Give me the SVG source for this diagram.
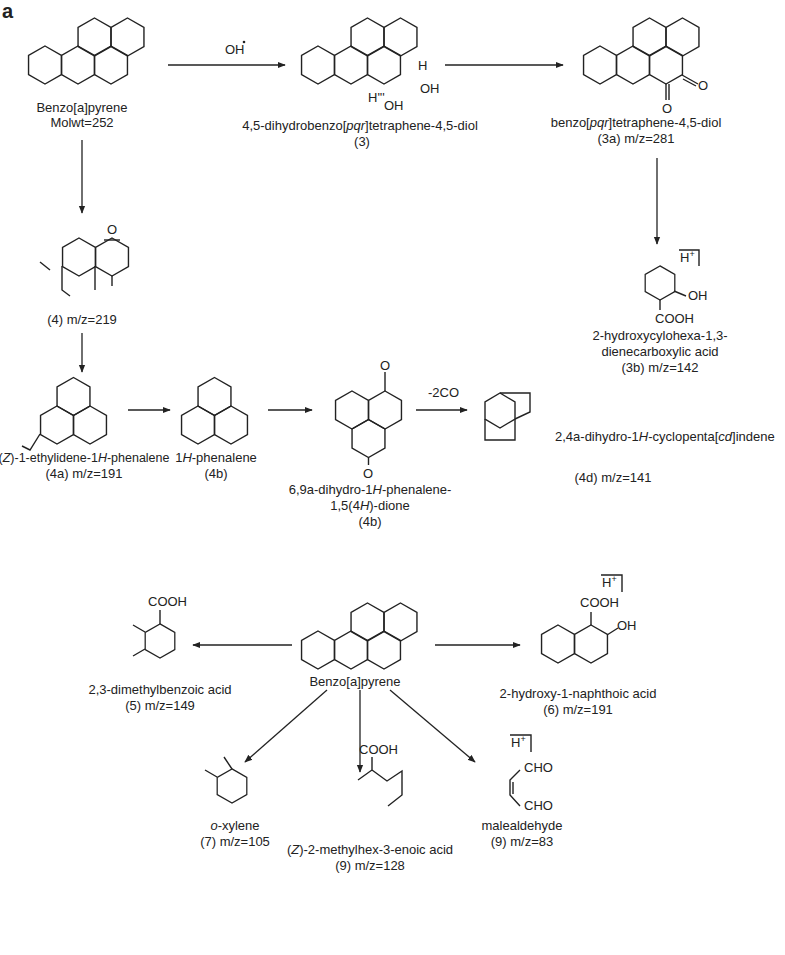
<svg xmlns="http://www.w3.org/2000/svg" width="785" height="955" viewBox="0 0 785 955">
<style>
text{font-family:"Liberation Sans",Arial,sans-serif;font-size:13px;fill:#222}
.c{text-anchor:middle}
.b{stroke:#222;stroke-width:1.4;fill:none}
.a{stroke:#222;stroke-width:1.3;fill:none;marker-end:url(#ar)}
</style>
<defs>
<marker id="ar" viewBox="0 0 10 10" refX="9" refY="5" markerWidth="8" markerHeight="8" orient="auto" markerUnits="userSpaceOnUse"><path d="M0,1 L10,5 L0,9Z" fill="#222"/></marker>
<path id="hx" class="b" d="M0,-19 L16.45,-9.5 L16.45,9.5 L0,19 L-16.45,9.5 L-16.45,-9.5Z"/>
</defs>
<text x="2" y="18" style="font-size:20px;font-weight:bold">a</text>

<g id="bap1"><use href="#hx" x="45" y="65"/><use href="#hx" x="78" y="65"/><use href="#hx" x="111" y="65"/><use href="#hx" x="94.5" y="37"/><use href="#hx" x="127.5" y="37"/>
<text class="c" x="82" y="112">Benzo[a]pyrene</text><text class="c" x="82" y="127">Molwt=252</text></g>

<g id="c3"><use href="#hx" x="318" y="65"/><use href="#hx" x="351" y="65"/><use href="#hx" x="384" y="65"/><use href="#hx" x="367.5" y="37"/><use href="#hx" x="400.5" y="37"/>
<text x="418" y="70">H</text><text x="420" y="93">OH</text><text x="368" y="102">H'''</text><text x="384" y="110">OH</text>
<text class="c" x="360" y="130">4,5-dihydrobenzo[<tspan font-style="italic">pqr</tspan>]tetraphene-4,5-diol</text><text class="c" x="362" y="146">(3)</text></g>

<g id="c3a"><use href="#hx" x="600" y="65"/><use href="#hx" x="633" y="65"/><use href="#hx" x="666" y="65"/><use href="#hx" x="649.5" y="37"/><use href="#hx" x="682.5" y="37"/>
<path class="b" d="M682,75 L698,84 M683,79 L696,86 M666,84 L666,100 M669,84 L669,100"/>
<text x="698" y="90">O</text><text x="662" y="113">O</text>
<text class="c" x="636" y="127">benzo[<tspan font-style="italic">pqr</tspan>]tetraphene-4,5-diol</text><text class="c" x="636" y="143">(3a) m/z=281</text></g>

<g id="c3b"><use href="#hx" x="660" y="283" transform="translate(660 283) scale(0.9) translate(-660 -283)"/>
<path class="b" d="M674,291 L686,296"/><text x="688" y="300">OH</text><text x="655" y="323">COOH</text>
<path class="b" d="M660,300 L660,310"/>
<text x="680" y="262">H<tspan font-size="9" dy="-5">+</tspan></text><path class="b" d="M679,250 L699,250 L699,266"/>
<text class="c" x="660" y="340">2-hydroxycylohexa-1,3-</text><text class="c" x="660" y="356">dienecarboxylic acid</text><text class="c" x="660" y="372">(3b) m/z=142</text></g>

<g id="c4"><use href="#hx" x="79" y="257"/><use href="#hx" x="112" y="257"/>
<path class="b" d="M62,266 L62,290 L70,296 M95,266 L95,290 M112,276 L112,286"/>
<text x="107" y="234">O</text><path class="b" d="M104,240 L120,240"/><path class="b" d="M40,262 L50,270"/>
<text class="c" x="82" y="324">(4) m/z=219</text></g>

<g id="c4a"><use href="#hx" x="57" y="425"/><use href="#hx" x="90" y="425"/><use href="#hx" x="73.5" y="396.5"/>
<path class="b" d="M40,434 L30,450 L22,446"/>
<text class="c" x="84" y="462" style="font-size:12.5px">(<tspan font-style="italic">Z</tspan>)-1-ethylidene-1<tspan font-style="italic">H</tspan>-phenalene</text><text class="c" x="84" y="478">(4a) m/z=191</text></g>

<g id="c4b"><use href="#hx" x="198" y="425"/><use href="#hx" x="231" y="425"/><use href="#hx" x="214.5" y="396.5"/>
<text class="c" x="216" y="462">1<tspan font-style="italic">H</tspan>-phenalene</text><text class="c" x="216" y="478">(4b)</text></g>

<g id="c4c"><use href="#hx" x="352" y="410"/><use href="#hx" x="385" y="410"/><use href="#hx" x="368.5" y="438.5"/>
<path class="b" d="M385,372 L385,391"/><text x="380" y="370">O</text>
<path class="b" d="M368.5,457.5 L368.5,465"/><text x="363" y="478">O</text>
<text class="c" x="370" y="494">6,9a-dihydro-1<tspan font-style="italic">H</tspan>-phenalene-</text><text class="c" x="370" y="510">1,5(4<tspan font-style="italic">H</tspan>)-dione</text><text class="c" x="370" y="526">(4b)</text></g>

<g id="c4d"><path class="b" d="M500,393 L515,402 L515,419 L500,428 L485,419 L485,402Z"/>
<path class="b" d="M500,393 L530,393 L530,412 L515,419 M485,419 L485,440 L515,440 L515,419"/>
<text x="555" y="441">2,4a-dihydro-1<tspan font-style="italic">H</tspan>-cyclopenta[<tspan font-style="italic">cd</tspan>]indene</text>
<text class="c" x="613" y="482">(4d) m/z=141</text></g>

<g id="bap2"><use href="#hx" x="318" y="650"/><use href="#hx" x="351" y="650"/><use href="#hx" x="384" y="650"/><use href="#hx" x="367.5" y="622"/><use href="#hx" x="400.5" y="622"/>
<text class="c" x="355" y="686">Benzo[a]pyrene</text></g>

<g id="c5"><use href="#hx" x="160" y="641" transform="translate(160 641) scale(0.9) translate(-160 -641)"/>
<path class="b" d="M160,624 L160,610 M145,632 L133,625 M145,649 L133,656"/>
<text x="148" y="606">COOH</text>
<text class="c" x="160" y="694">2,3-dimethylbenzoic acid</text><text class="c" x="160" y="710">(5) m/z=149</text></g>

<g id="c6"><use href="#hx" x="558" y="644"/><use href="#hx" x="591" y="644"/>
<path class="b" d="M591,625 L591,612 M607,635 L618,628"/>
<text x="580" y="607">COOH</text><text x="617" y="630">OH</text>
<text x="602" y="587">H<tspan font-size="9" dy="-5">+</tspan></text><path class="b" d="M601,575 L622,575 L622,592"/>
<text class="c" x="578" y="698">2-hydroxy-1-naphthoic acid</text><text class="c" x="578" y="714">(6) m/z=191</text></g>

<g id="c7"><use href="#hx" x="232" y="786" transform="translate(232 786) scale(0.9) translate(-232 -786)"/>
<path class="b" d="M217,777 L205,770 M232,769 L224,757"/>
<text class="c" x="235" y="830"><tspan font-style="italic">o</tspan>-xylene</text><text class="c" x="235" y="846">(7) m/z=105</text></g>

<g id="c8"><path class="b" d="M372,757 L372,770 L358,780 M372,770 L387,781 L402,771 L402,795 L388,806"/>
<text x="359" y="754">COOH</text>
<text class="c" x="370" y="854">(<tspan font-style="italic">Z</tspan>)-2-methylhex-3-enoic acid</text><text class="c" x="370" y="870">(9) m/z=128</text></g>

<g id="c9"><path class="b" d="M520,770 L510,780 L510,795 L520,806 M513,782 L513,794"/>
<text x="524" y="772">CHO</text><text x="524" y="810">CHO</text>
<text x="511" y="747">H<tspan font-size="9" dy="-5">+</tspan></text><path class="b" d="M510,735 L531,735 L531,752"/>
<text class="c" x="522" y="830">malealdehyde</text><text class="c" x="522" y="846">(9) m/z=83</text></g>

<g id="connectors">
<path class="a" d="M168,65 L285,65"/><text x="225" y="54">OH</text><circle cx="244" cy="42" r="1.3" fill="#222"/>
<path class="a" d="M445,65 L563,65"/>
<path class="a" d="M657,158 L657,244"/>
<path class="a" d="M82,140 L82,213"/>
<path class="a" d="M82,333 L82,372"/>
<path class="a" d="M128,410 L170,410"/>
<path class="a" d="M268,410 L312,410"/>
<path class="a" d="M416,410 L467,410"/><text x="428" y="397">-2CO</text>
<path class="a" d="M292,645 L193,645"/>
<path class="a" d="M435,645 L520,645"/>
<path class="a" d="M327,690 L245,762"/>
<path class="a" d="M360,690 L360,772"/>
<path class="a" d="M390,690 L475,762"/>
</g>
</svg>
